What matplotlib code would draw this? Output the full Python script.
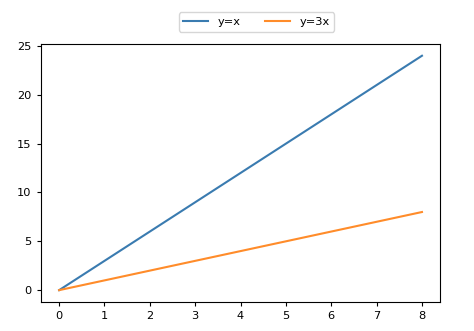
import matplotlib as mpl
mpl.use('Agg')
import matplotlib.pyplot as plt

# ----- data -----
x = [0, 1, 2, 3, 4, 5, 6, 7, 8]
blue_y = [0, 3, 6, 9, 12, 15, 18, 21, 24]
orange_y = [0, 1, 2, 3, 4, 5, 6, 7, 8]
labels = ['y=x', 'y=3x']

plt.rcParams['font.size'] = 8.2
plt.rcParams['lines.linewidth'] = 1.5

fig = plt.figure(figsize=[4.74, 3.31], dpi=100)
ax = fig.add_axes([0.0865, 0.088, 0.842, 0.779])

ax.plot(x, blue_y, color='#3a7bb0', label=labels[0])
ax.plot(x, orange_y, color='#ff8c2a', label=labels[1])

ax.set_xticks(range(0, 9))
ax.set_yticks([0, 5, 10, 15, 20, 25])
for s in ax.spines.values():
    s.set_linewidth(0.8)
ax.tick_params(width=0.8, length=3.2)

ax.legend(loc='lower center', bbox_to_anchor=(0.54, 1.035), ncol=2,
          frameon=True, borderaxespad=0.3, handlelength=2.2, columnspacing=2.2)

fig.savefig('out.png', dpi=100)
plt.close(fig)
